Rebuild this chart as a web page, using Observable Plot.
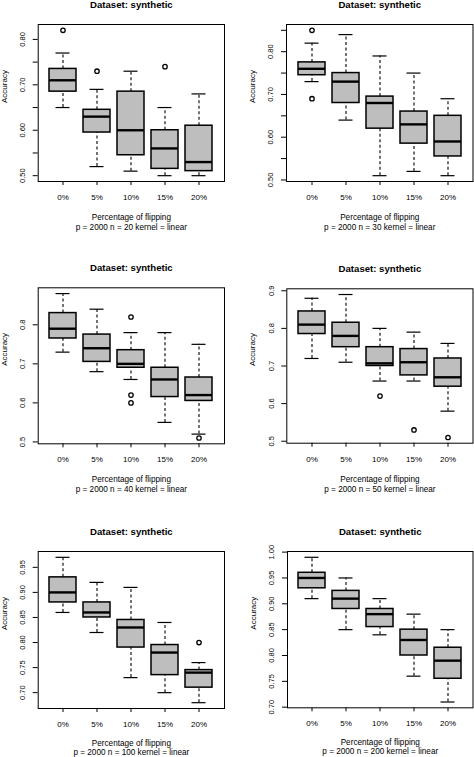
<!DOCTYPE html>
<html>
<head>
<meta charset="utf-8">
<script src="https://cdn.jsdelivr.net/npm/d3@7"></script>
<script src="https://cdn.jsdelivr.net/npm/@observablehq/plot@0.6"></script>
<style>
  html, body { margin: 0; padding: 0; background: white; }
  #fig { position: relative; width: 474px; height: 757px; overflow: hidden; background: white; }
</style>
</head>
<body>
<div id="fig"></div>
<script>
// ---- data ----
const categories = ["0%", "5%", "10%", "15%", "20%"];
const sampleSizes = [20, 30, 40, 50, 100, 200];
const datasetTitle = "Dataset: synthetic";
const xAxisTitle = "Percentage of flipping";

const lowerWhisker = [
  [0.65, 0.52, 0.51, 0.50, 0.50],
  [0.73, 0.64, 0.51, 0.52, 0.51],
  [0.73, 0.68, 0.66, 0.55, 0.52],
  [0.72, 0.71, 0.66, 0.66, 0.58],
  [0.86, 0.82, 0.73, 0.70, 0.68],
  [0.91, 0.85, 0.84, 0.76, 0.71]
];
const lowerQuartile = [
  [0.685, 0.595, 0.545, 0.515, 0.51],
  [0.745, 0.68, 0.62, 0.585, 0.555],
  [0.765, 0.705, 0.69, 0.615, 0.605],
  [0.785, 0.75, 0.70, 0.675, 0.645],
  [0.88, 0.85, 0.79, 0.735, 0.71],
  [0.93, 0.89, 0.855, 0.80, 0.755]
];
const medians = [
  [0.71, 0.63, 0.60, 0.56, 0.53],
  [0.76, 0.73, 0.68, 0.63, 0.59],
  [0.79, 0.74, 0.70, 0.66, 0.62],
  [0.81, 0.78, 0.707, 0.71, 0.67],
  [0.90, 0.86, 0.83, 0.78, 0.74],
  [0.95, 0.91, 0.88, 0.83, 0.79]
];
const upperQuartile = [
  [0.735, 0.645, 0.685, 0.60, 0.61],
  [0.775, 0.75, 0.695, 0.66, 0.65],
  [0.83, 0.775, 0.735, 0.69, 0.665],
  [0.845, 0.815, 0.75, 0.745, 0.72],
  [0.93, 0.88, 0.845, 0.795, 0.745],
  [0.96, 0.925, 0.89, 0.85, 0.815]
];
const upperWhisker = [
  [0.77, 0.69, 0.73, 0.65, 0.68],
  [0.82, 0.84, 0.79, 0.75, 0.69],
  [0.88, 0.84, 0.78, 0.78, 0.75],
  [0.88, 0.89, 0.80, 0.79, 0.76],
  [0.97, 0.92, 0.91, 0.84, 0.76],
  [0.99, 0.95, 0.91, 0.88, 0.85]
];
// outliers: [category, value]
const outliers = [
  [["0%", 0.82], ["5%", 0.73], ["15%", 0.74]],
  [["0%", 0.85], ["0%", 0.69]],
  [["10%", 0.82], ["10%", 0.62], ["10%", 0.60], ["20%", 0.51]],
  [["10%", 0.62], ["15%", 0.53], ["20%", 0.51]],
  [["20%", 0.80]],
  []
];
const yTicks = [
  [0.50, 0.55, 0.60, 0.65, 0.70, 0.75, 0.80],
  [0.50, 0.55, 0.60, 0.65, 0.70, 0.75, 0.80, 0.85],
  [0.5, 0.6, 0.7, 0.8],
  [0.5, 0.6, 0.7, 0.8, 0.9],
  [0.70, 0.75, 0.80, 0.85, 0.90, 0.95],
  [0.70, 0.75, 0.80, 0.85, 0.90, 0.95, 1.00]
];
const yTickLabels = [
  ["0.50", "", "0.60", "", "0.70", "", "0.80"],
  ["0.50", "", "0.60", "", "0.70", "", "0.80", ""],
  ["0.5", "0.6", "0.7", "0.8"],
  ["0.5", "0.6", "0.7", "0.8", "0.9"],
  ["0.70", "0.75", "0.80", "0.85", "0.90", "0.95"],
  ["0.70", "0.75", "0.80", "0.85", "0.90", "0.95", "1.00"]
];

// ---- layout (frame edges in page pixels) ----
const frames = [
  {col: 0, row: 0, left: 37.7, right: 224, top: 24, bottom: 181},
  {col: 1, row: 0, left: 286, right: 472.5, top: 24, bottom: 181},
  {col: 0, row: 1, left: 37.7, right: 224, top: 287.3, bottom: 443.3},
  {col: 1, row: 1, left: 286.3, right: 472.5, top: 288.3, bottom: 442.7},
  {col: 0, row: 2, left: 37.7, right: 224, top: 551, bottom: 708},
  {col: 1, row: 2, left: 287, right: 472.5, top: 551, bottom: 707.3}
];
const W = 237, H = 250, rowStep = 263;
const font = "'Liberation Sans', Arial, Helvetica, sans-serif";
const fig = document.getElementById("fig");

sampleSizes.forEach((n, i) => {
  const f = frames[i];
  const L = f.col * W, T = f.row * rowStep;
  const rows = categories.map((c, j) => ({
    cat: c,
    lo: lowerWhisker[i][j], q1: lowerQuartile[i][j], med: medians[i][j],
    q3: upperQuartile[i][j], hi: upperWhisker[i][j]
  }));
  const outs = outliers[i].map(([c, v]) => ({cat: c, v}));
  const vals = [...lowerWhisker[i], ...upperWhisker[i], ...outs.map(d => d.v)];
  const mn = d3.min(vals), mx = d3.max(vals), pad = (mx - mn) * 0.04;
  const labelOf = new Map(yTicks[i].map((t, k) => [t, yTickLabels[i][k]]));
  const subtitle = `p = 2000 n = ${n} kernel = linear`;
  const titleDy = f.row === 2 ? 34.5 : 36;
  const subDy = f.row === 2 ? 44 : 46;

  const svg = Plot.plot({
    width: W, height: H,
    marginLeft: f.left - L,
    marginRight: L + W - f.right,
    marginTop: f.top - T,
    marginBottom: T + H - f.bottom,
    style: {fontFamily: font, fontSize: "8px", background: "transparent", color: "black", overflow: "visible"},
    x: {type: "band", domain: categories, paddingInner: 0.2, paddingOuter: 0.3, align: 0.5, label: null},
    y: {domain: [mn - pad, mx + pad], label: null},
    marks: [
      Plot.ruleX(rows, {x: "cat", y1: "q3", y2: "hi", stroke: "black", strokeWidth: 1.1, strokeDasharray: "3,2.5"}),
      Plot.ruleX(rows, {x: "cat", y1: "lo", y2: "q1", stroke: "black", strokeWidth: 1.1, strokeDasharray: "3,2.5"}),
      Plot.tickY(rows, {x: "cat", y: "hi", stroke: "black", strokeWidth: 1.2, inset: 6.5}),
      Plot.tickY(rows, {x: "cat", y: "lo", stroke: "black", strokeWidth: 1.2, inset: 6.5}),
      Plot.barY(rows, {x: "cat", y1: "q1", y2: "q3", fill: "#bebebe", stroke: "black", strokeWidth: 1.5}),
      Plot.tickY(rows, {x: "cat", y: "med", stroke: "black", strokeWidth: 2.4}),
      Plot.dot(outs, {x: "cat", y: "v", r: 2.2, stroke: "black", strokeWidth: 1.3, fill: "none"}),
      Plot.frame({stroke: "black", strokeWidth: 1}),
      Plot.axisX({tickSize: 4, tickPadding: 9, fontSize: 8, label: null}),
      Plot.axisY({ticks: yTicks[i], tickSize: 5, tickPadding: 10.5, tickRotate: -90,
                  textAnchor: "middle", lineAnchor: "middle", fontSize: 7.5, label: null,
                  tickFormat: d => labelOf.get(d) ?? ""}),
      Plot.text([datasetTitle], {frameAnchor: "top", dy: -19.5, fontWeight: "bold", fontSize: 9.6, lineAnchor: "middle"}),
      Plot.text([xAxisTitle], {frameAnchor: "bottom", dy: titleDy, fontSize: 8.2, lineAnchor: "middle"}),
      Plot.text([subtitle], {frameAnchor: "bottom", dy: subDy, fontSize: 8.2, lineAnchor: "middle"}),
      Plot.text(["Accuracy"], {frameAnchor: "left", dx: -34, rotate: -90, fontSize: 8, lineAnchor: "middle"})
    ]
  });
  svg.style.position = "absolute";
  svg.style.left = L + "px";
  svg.style.top = T + "px";
  fig.appendChild(svg);
});
</script>
</body>
</html>
